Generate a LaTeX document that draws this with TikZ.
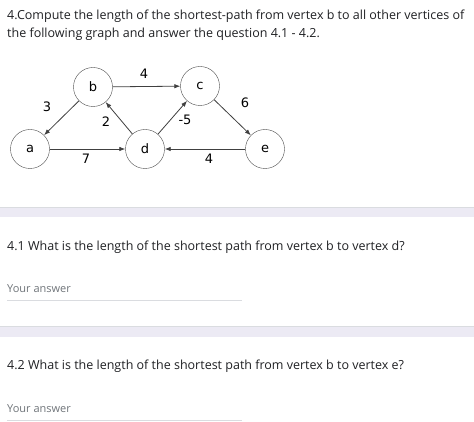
\documentclass[tikz,border=0pt]{standalone}
\usepackage{fontspec}
\usetikzlibrary{arrows.meta}
\setmainfont{Open Sans}
\newfontfamily\graphfont{DejaVu Sans}
\definecolor{formtext}{HTML}{202124}
\definecolor{formgrey}{HTML}{70757A}
\definecolor{formband}{HTML}{ECEAF4}
\definecolor{formline}{HTML}{DADCE0}
\tikzset{
  vertex/.style={draw=black!70,circle,minimum size=39pt,inner sep=0pt,font=\graphfont\fontsize{13}{13}\selectfont},
  wlabel/.style={font=\graphfont\fontsize{13}{13}\selectfont},
  arc/.style={->,draw=black!75,line width=0.8pt},
  qtext/.style={anchor=west,inner sep=0pt,text=formtext,font=\fontsize{12.5}{15}\selectfont},
  hint/.style={anchor=west,inner sep=0pt,text=formgrey,font=\fontsize{11}{13}\selectfont}
}
\begin{document}
\begin{tikzpicture}[>={Latex[length=6pt,width=4.5pt]},x=1pt,y=-1pt]
		\useasboundingbox[fill=white] (0,0) rectangle (474,422);
		% question text
		\node[qtext] (title1) at (7,16) {4.Compute the length of the shortest-path from vertex b to all other vertices of};
		\node[qtext] (title2) at (7,34) {the following graph and answer the question 4.1 - 4.2.};
		% graph
		\node[vertex] (a) at (30,149) {a};
		\node[vertex] (b) at (93,87) {b};
		\node[vertex] (c) at (200,86) {c};
		\node[vertex] (d) at (145,149) {d};
		\node[vertex] (e) at (265,149) {e};
		\draw[arc] (b) -- (c);
		\draw[arc] (b) -- (a);
		\draw[arc] (d) -- (b);
		\draw[arc] (d) -- (c);
		\draw[arc] (a) -- (d);
		\draw[arc] (e) -- (d);
		\draw[arc] (c) -- (e);
		\node[wlabel] (wbc) at (144,74) {4};
		\node[wlabel] (wba) at (47,107) {3};
		\node[wlabel] (wdb) at (106,122) {2};
		\node[wlabel] (wdc) at (185,120) {-5};
		\node[wlabel] (wce) at (245,103) {6};
		\node[wlabel] (wad) at (86,159) {7};
		\node[wlabel] (wed) at (209,159) {4};
		% separators
		\fill[formband] (0,207) rectangle (474,217);
		\draw[formline] (0,207) -- (474,207);
		\fill[formband] (0,326) rectangle (474,337);
		\draw[formline] (0,326) -- (474,326);
		% questions
		\node[qtext] (q1) at (7,247) {4.1 What is the length of the shortest path from vertex b to vertex d?};
		\node[hint] (ans1) at (7,289) {Your answer};
		\draw[formline] (7,300) -- (242,300);
		\node[qtext] (q2) at (7,366) {4.2 What is the length of the shortest path from vertex b to vertex e?};
		\node[hint] (ans2) at (7,409) {Your answer};
		\draw[formline] (7,420) -- (242,420);
\end{tikzpicture}
\end{document}
